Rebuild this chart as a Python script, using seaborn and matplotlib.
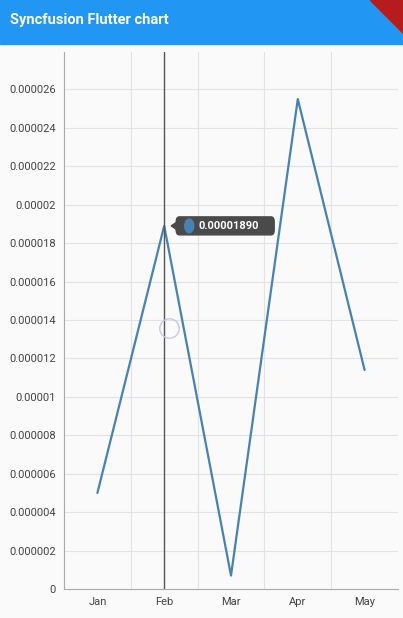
import matplotlib
matplotlib.use("Agg")
import matplotlib.pyplot as plt
import seaborn as sns
import pandas as pd
from matplotlib.patches import Rectangle, Polygon, FancyBboxPatch, Circle

months = ["Jan", "Feb", "Mar", "Apr", "May"]
values = [0.0000050, 0.0000189, 0.0000007, 0.0000255, 0.0000114]
ytick_vals = [0, 0.000002, 0.000004, 0.000006, 0.000008, 0.00001, 0.000012, 0.000014,
              0.000016, 0.000018, 0.00002, 0.000022, 0.000024, 0.000026]
ytick_labels = ["0", "0.000002", "0.000004", "0.000006", "0.000008", "0.00001", "0.000012",
                "0.000014", "0.000016", "0.000018", "0.00002", "0.000022", "0.000024", "0.000026"]
tooltip_text = "0.00001890"
title = "Syncfusion Flutter chart"

sns.set_style("white")
plt.rcParams['font.family'] = ['Roboto', 'DejaVu Sans']
W, H = 403, 618
fig = plt.figure(figsize=(W/100, H/100), dpi=100, facecolor="#FAFAFA")

# app bar
fig.patches.append(Rectangle((0, 1-44/H), 1, 44/H, transform=fig.transFigure, color="#2196F3"))
fig.text(10/W, 1-20/H, title, color="white", fontsize=10.5, fontweight="bold", va="center")
fig.patches.append(Polygon([[370/W, 1], [403/W, 1], [403/W, 1-33/H]], closed=True,
                           transform=fig.transFigure, color="#B71C1C"))

ax = fig.add_axes([64/W, 1-589/H, 334/W, 537/H])
ax.set_facecolor("#FAFAFA")
df = pd.DataFrame({"x": range(len(months)), "y": values})
sns.lineplot(data=df, x="x", y="y", ax=ax, color="#4682B4", linewidth=1.6)
ax.set_xlim(-0.5, 4.5)
ax.set_ylim(0, 0.00002795)
ax.set_xticks(range(5))
ax.set_xticklabels(months, fontsize=8, color="#444")
ax.set_yticks(ytick_vals)
ax.set_yticklabels(ytick_labels, fontsize=8, color="#444")
ax.set_xlabel(""); ax.set_ylabel("")
for v in ytick_vals[1:]:
    ax.axhline(v, color="#E3E3E3", lw=0.8, zorder=0)
for b in [0.5, 1.5, 2.5, 3.5]:
    ax.axvline(b, color="#E3E3E3", lw=0.8, zorder=0)
for s in ["top", "right"]:
    ax.spines[s].set_visible(False)
for s in ["left", "bottom"]:
    ax.spines[s].set_color("#AAAAAA"); ax.spines[s].set_linewidth(0.8)
ax.tick_params(axis="both", length=4, color="#AAAAAA", pad=2)

# trackball
ax.axvline(1, color="#555555", lw=1)
ax.add_patch(Circle((1.07, 0.0000136), 0.0, transform=ax.transData))
ax.plot([1.07], [0.0000136], marker="o", ms=14, mfc="none", mec="#C8C8E8", mew=1)
bx = ax.transData.transform((1, values[1]))
fx, fy = bx[0]/ (W*1.0) , bx[1]/(H*1.0)
fig.patches.append(FancyBboxPatch((fx + 12/W, fy - 9/H), 98/W, 18/H,
                   boxstyle="round,pad=0,rounding_size=0.008", transform=fig.transFigure,
                   color="#4A4A4A", zorder=5))
fig.patches.append(Polygon([[fx + 7/W, fy], [fx + 13/W, fy + 4/H], [fx + 13/W, fy - 4/H]],
                           transform=fig.transFigure, color="#4A4A4A", zorder=5))
fig.patches.append(Circle((fx + 25/W, fy), 4.5/W, transform=fig.transFigure, color="#4682B4", zorder=6))
fig.text(fx + 34/W, fy, tooltip_text, color="white", fontsize=8, fontweight="bold", va="center", zorder=7)

fig.savefig("out.png", dpi=100, facecolor=fig.get_facecolor())
